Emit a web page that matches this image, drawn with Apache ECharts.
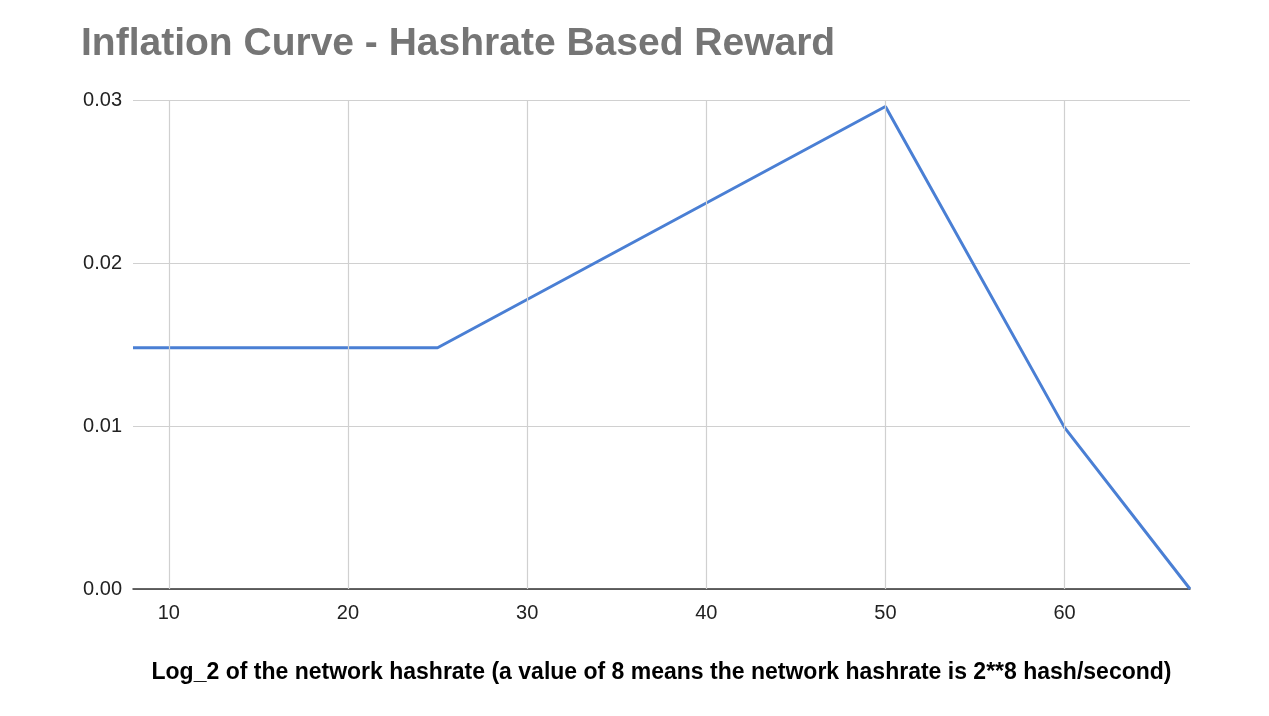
<!DOCTYPE html>
<html>
<head>
<meta charset="utf-8">
<script src="https://cdn.jsdelivr.net/npm/echarts@6/dist/echarts.min.js"></script>
<style>html,body{margin:0;padding:0;background:#fff}</style>
</head>
<body>
<div id="main" style="width:1269px;height:716px;"></div>
<script>
var xValues = [8, 25, 50, 60, 67];
var yValues = [0.0148, 0.0148, 0.0296, 0.0099, 0];
var xTicks = [10, 20, 30, 40, 50, 60];

var chart = echarts.init(document.getElementById('main'));
chart.setOption({
  animation: false,
  title: {
    text: 'Inflation Curve - Hashrate Based Reward',
    left: 76, top: 20,
    textStyle: { fontFamily: 'Liberation Sans', fontSize: 39, fontWeight: 'bold', color: '#757575' }
  },
  grid: { left: 133, right: 79, top: 100, bottom: 127 },
  xAxis: {
    type: 'value', min: 8, max: 67,
    name: 'Log_2 of the network hashrate (a value of 8 means the network hashrate is 2**8 hash/second)',
    nameLocation: 'middle', nameGap: 72,
    nameTextStyle: { fontFamily: 'Liberation Sans', fontSize: 23, fontWeight: 'bold', color: '#000' },
    axisLine: { lineStyle: { color: '#333', width: 1.5 } },
    axisTick: { show: false, customValues: xTicks },
    axisLabel: { customValues: xTicks, margin: 14, fontFamily: 'Liberation Sans', fontSize: 20, color: '#222' },
    splitLine: { show: false }
  },
  yAxis: {
    type: 'value', min: 0, max: 0.03, interval: 0.01,
    axisLine: { show: false }, axisTick: { show: false },
    axisLabel: { margin: 11, fontFamily: 'Liberation Sans', fontSize: 20, color: '#222',
      formatter: function (v) { return v.toFixed(2); } },
    splitLine: { lineStyle: { color: '#d0d0d0', width: 1.2 } }
  },
  series: [{
    type: 'line',
    data: xValues.map(function (x, i) { return [x, yValues[i]]; }),
    showSymbol: false,
    lineStyle: { color: '#4a7fd4', width: 3 },
    markLine: {
      silent: true, symbol: 'none', label: { show: false },
      lineStyle: { color: '#d0d0d0', width: 1.2, type: 'solid' },
      data: xTicks.map(function (t) { return { xAxis: t }; })
    },
    z: 3
  }]
});
</script>
</body>
</html>
